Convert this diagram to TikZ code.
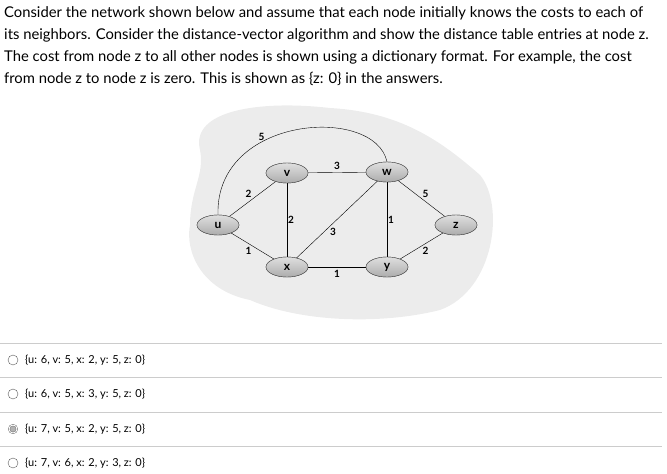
\documentclass[tikz,border=0pt]{standalone}
\usepackage{fontspec}
\setmainfont{Lato}
\usetikzlibrary{shapes.geometric}
\begin{document}
\begin{tikzpicture}[x=1pt,y=-1pt,
  router/.style={ellipse,draw=gray!60!black,top color=gray!25,bottom color=gray!65,minimum width=42pt,minimum height=20pt,inner sep=0pt,font=\bfseries\large},
  lbl/.style={font=\bfseries\normalsize,inner sep=1pt},
  txt/.style={anchor=west,inner sep=0pt,font=\fontsize{14.8}{16}\selectfont},
  opt/.style={anchor=west,inner sep=0pt,font=\fontsize{11}{13}\selectfont},
  sep/.style={draw=gray!40,line width=0.8pt},
  radio/.style={circle,draw=gray!70!black,minimum size=10pt,inner sep=0pt}]
\useasboundingbox (0,0) rectangle (667,474);
\fill[gray!15] (200,150) .. controls (190,110) and (260,100) .. (330,108)
  .. controls (400,112) and (440,140) .. (480,175)
  .. controls (505,205) and (495,290) .. (440,310)
  .. controls (380,325) and (300,322) .. (250,300)
  .. controls (200,290) and (185,250) .. (190,225)
  .. controls (190,190) and (205,175) .. (200,150) -- cycle;
\node[txt] (t1) at (4,13) {Consider the network shown below and assume that each node initially knows the costs to each of};
\node[txt] (t2) at (4,35) {its neighbors. Consider the distance-vector algorithm and show the distance table entries at node z.};
\node[txt] (t3) at (4,57) {The cost from node z to all other nodes is shown using a dictionary format. For example, the cost};
\node[txt] (t4) at (4,79) {from node z to node z is zero. This is shown as \{z: 0\} in the answers.};
\node[router] (u) at (218,225) {u};
\node[router] (v) at (287,173) {v};
\node[router] (w) at (387,172) {w};
\node[router] (z) at (456,225) {z};
\node[router] (x) at (287,267) {x};
\node[router] (y) at (387,267) {y};
\draw (u.north) .. controls (215,115) and (375,105) .. (w.north) node[lbl,pos=0.35,above] {5};
\draw (u) -- node[lbl,above left=0pt] {2} (v);
\draw (u) -- node[lbl,below left=0pt] {1} (x);
\draw (v) -- node[lbl,above=2pt] {3} (w);
\draw (v) -- node[lbl,right] {2} (x);
\draw (x) -- node[lbl,pos=0.4,below right=0pt] {3} (w);
\draw (w) -- node[lbl,right] {1} (y);
\draw (w) -- node[lbl,above right=0pt] {5} (z);
\draw (x) -- node[lbl,below=2pt] {1} (y);
\draw (y) -- node[lbl,below right=0pt] {2} (z);
\node[router] at (u) {u};\node[router] at (v) {v};\node[router] at (w) {w};
\node[router] at (z) {z};\node[router] at (x) {x};\node[router] at (y) {y};
\draw[sep] (0,343) -- (662,343);
\draw[sep] (0,377) -- (662,377);
\draw[sep] (0,412) -- (662,412);
\draw[sep] (0,446) -- (662,446);
\node[radio] (r1) at (13,360) {};
\node[radio] (r2) at (13,394) {};
\node[radio,fill=gray!60,double=white,double distance=1pt,minimum size=8pt] (r3) at (13,429) {};
\node[radio] (r4) at (13,463) {};
\node[opt] (o1) at (25,360) {\{u: 6, v: 5, x: 2, y: 5, z: 0\}};
\node[opt] (o2) at (25,394) {\{u: 6, v: 5, x: 3, y: 5, z: 0\}};
\node[opt] (o3) at (25,429) {\{u: 7, v: 5, x: 2, y: 5, z: 0\}};
\node[opt] (o4) at (25,463) {\{u: 7, v: 6, x: 2, y: 3, z: 0\}};
\end{tikzpicture}
\end{document}
